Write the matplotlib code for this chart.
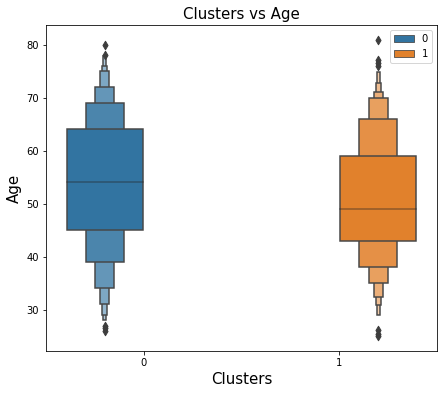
import numpy as np
import matplotlib.pyplot as plt
from matplotlib.patches import Patch

# letter-value boxes, widest level first: (lower, upper)
cluster_labels = ['0', '1']
hue_labels = ['0', '1']

c0_lower = [45.1, 39.1, 34.2, 31.1, 29.1, 28.1]
c0_upper = [64.2, 69.1, 72.1, 75.2, 76.1, 78.0]
c0_median = 54.1
c0_outliers = [80.0, 78.2, 27.1, 26.6, 26.0]

c1_lower = [43.1, 38.1, 35.1, 32.4, 31.0, 29.1]
c1_upper = [59.1, 66.1, 70.1, 71.2, 72.8, 75.0]
c1_median = 49.1
c1_outliers = [81.0, 77.2, 76.6, 76.0, 26.2, 25.6, 25.1]

base_colors = ['#3274a1', '#e1812c']
edge = '#474747'
n_ref = 8


def blend(hexc, t):
    rgb = np.array([int(hexc[i:i + 2], 16) for i in (1, 3, 5)]) / 255.0
    return tuple(rgb + (1 - rgb) * t)


def draw_boxen(ax, pos, lower, upper, median, outliers, color):
    k = len(lower)
    width = 0.39
    for i in range(k - 1, -1, -1):
        w = width * 0.5 ** i
        ax.bar(pos, upper[i] - lower[i], bottom=lower[i], width=w,
               color=blend(color, 0.85 * i / (n_ref - 1)),
               edgecolor=edge, linewidth=1.5, zorder=2 + (k - i))
    ax.plot([pos - width / 2, pos + width / 2], [median, median],
            color='.15', alpha=.45, linewidth=1.5, zorder=20)
    ax.scatter([pos] * len(outliers), outliers, marker='d', s=36,
               color='#3d3d3d', zorder=21)


fig = plt.figure(figsize=(443 / 72, 394 / 72), dpi=72)
ax = fig.add_axes([46 / 443, 1 - 351 / 394, (437 - 46) / 443, (351 - 25) / 394])

draw_boxen(ax, -0.2, c0_lower, c0_upper, c0_median, c0_outliers, base_colors[0])
draw_boxen(ax, 1.2, c1_lower, c1_upper, c1_median, c1_outliers, base_colors[1])

ax.set_xlim(-0.5, 1.5)
ax.set_xticks([0, 1])
ax.set_xticklabels(cluster_labels)
ax.set_yticks([30, 40, 50, 60, 70, 80])
ax.set_ylim(22.3, 83.8)

ax.set_title('Clusters vs Age', fontsize=15)
ax.set_xlabel('Clusters', fontsize=15)
ax.set_ylabel('Age', fontsize=15)

handles = [Patch(facecolor=c, edgecolor=edge, linewidth=0.8) for c in base_colors]
ax.legend(handles, hue_labels, loc='upper right')

fig.savefig('out.png', dpi=72)
